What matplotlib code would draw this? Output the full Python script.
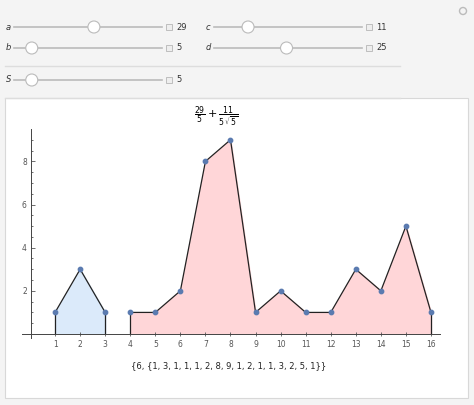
import matplotlib.pyplot as plt
from matplotlib.patches import Rectangle, Ellipse
from matplotlib.lines import Line2D

left_vals = [1, 3, 1]
right_vals = [1, 1, 2, 8, 9, 1, 2, 1, 1, 3, 2, 5, 1]
left_x = [1, 2, 3]
right_x = list(range(4, 17))
sliders = [("a", 29, 0.54), ("b", 5, 0.12), ("c", 11, 0.23), ("d", 25, 0.49), ("S", 5, 0.12)]

W, H = 474, 405
fig = plt.figure(figsize=(W / 100, H / 100), dpi=100)
fig.patch.set_facecolor("#f4f4f4")

def fx(px):
    return px / W

def fy(py):
    return 1 - py / H

# slider controls
pos = {"a": (14, 27), "b": (14, 48), "c": (214, 27), "d": (214, 48), "S": (14, 80)}
for name, val, frac in sliders:
    x0, y0 = pos[name]
    fig.text(fx(x0 - 8), fy(y0), name, fontsize=6, style="italic", va="center", color="#333")
    fig.add_artist(Line2D([fx(x0), fx(x0 + 148)], [fy(y0), fy(y0)], color="#bbbbbb", lw=1.2))
    cx = x0 + frac * 148
    fig.add_artist(Ellipse((fx(cx), fy(y0)), 12 / W, 12 / H, facecolor="white", edgecolor="#bbbbbb", lw=0.8, zorder=3))
    fig.add_artist(Rectangle((fx(x0 + 152), fy(y0 + 3)), 6 / W, 6 / H, facecolor="#eeeeee", edgecolor="#aaaaaa", lw=0.5))
    fig.text(fx(x0 + 162), fy(y0), str(val), fontsize=6, va="center", color="#333")
fig.add_artist(Line2D([fx(5), fx(400)], [fy(66), fy(66)], color="#dddddd", lw=1))
fig.add_artist(Line2D([fx(5), fx(400)], [fy(98), fy(98)], color="#dddddd", lw=1))
fig.add_artist(Ellipse((fx(463), fy(11)), 7 / W, 7 / H, facecolor="none", edgecolor="#bbbbbb", lw=1))

# white output panel
fig.add_artist(Rectangle((fx(5), fy(398)), 463 / W, 300 / H, facecolor="white", edgecolor="#d8d8d8", lw=0.8, zorder=0))

ax = fig.add_axes([fx(22), fy(334), fx(440) - fx(22), fy(129) - fy(334)])
ax.set_facecolor("none")
ax.set_xlim(-0.32, 16.36)
ax.set_ylim(0, 9.5)

ax.fill_between(left_x, left_vals, color="#dbeafa", zorder=1)
ax.fill_between(right_x, right_vals, color="#ffd6d8", zorder=1)
ax.plot(left_x, left_vals, color="#222", lw=0.9, zorder=2)
ax.plot(right_x, right_vals, color="#222", lw=0.9, zorder=2)
for xs, vs in [(left_x, left_vals), (right_x, right_vals)]:
    ax.plot([xs[0], xs[0]], [0, vs[0]], color="#222", lw=0.9)
    ax.plot([xs[-1], xs[-1]], [0, vs[-1]], color="#222", lw=0.9)
ax.scatter(left_x + right_x, left_vals + right_vals, s=10, color="#5b7bb0", zorder=3)

for s in ["top", "right"]:
    ax.spines[s].set_visible(False)
ax.spines["left"].set_position(("data", 0.04))
ax.spines["left"].set_bounds(-0.2, 9.5)
for s in ["left", "bottom"]:
    ax.spines[s].set_color("#444")
    ax.spines[s].set_linewidth(0.7)
ax.set_xticks(range(1, 17))
ax.set_yticks([2, 4, 6, 8])
ax.set_yticks([0.5 * i for i in range(1, 19)], minor=True)
ax.tick_params(labelsize=5.5, colors="#555", length=3, width=0.6, direction="in", pad=3)
ax.tick_params(which="minor", length=1.5, width=0.4, direction="in")
ax.tick_params(axis="x", direction="inout")

fig.text(fx(216), fy(117), r"$\frac{29}{5}+\frac{11}{5\,\sqrt{5}}$", ha="center", va="center", fontsize=8)
ax.set_xlabel("{6, {1, 3, 1, 1, 1, 2, 8, 9, 1, 2, 1, 1, 3, 2, 5, 1}}", fontsize=6, labelpad=4, color="#222")
ax.xaxis.set_label_coords((229 - 22) / 418, -0.13)

fig.savefig("out.png", dpi=100, facecolor=fig.get_facecolor())
